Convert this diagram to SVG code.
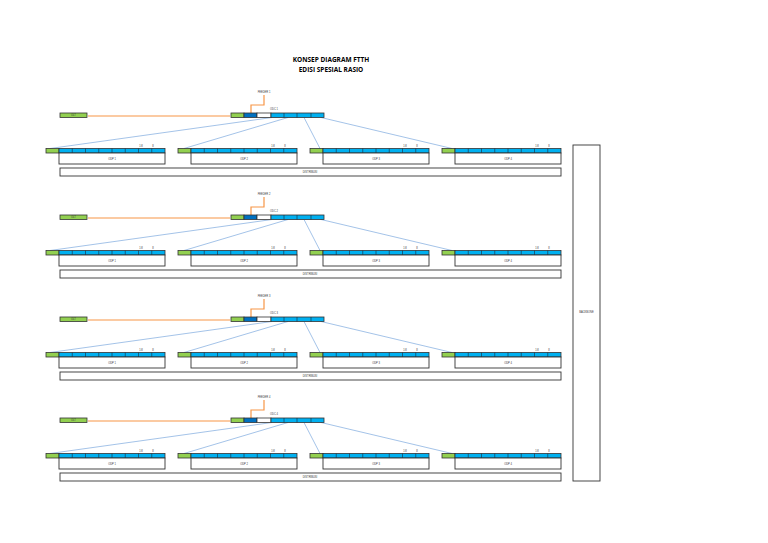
<svg xmlns="http://www.w3.org/2000/svg" width="768" height="543" viewBox="0 0 768 543">
<style>
.t{font-family:"Liberation Sans",Arial,sans-serif;font-size:2.6px;fill:#333;text-anchor:middle}
.title{font-family:"Open Sans","Liberation Sans",sans-serif;font-size:6.5px;font-weight:bold;fill:#000;text-anchor:middle}
.g{fill:#92d050;stroke:#333;stroke-width:0.8}
.b{fill:#00b0f0;stroke:#333;stroke-width:0.8}
.db{fill:#0070c0;stroke:#333;stroke-width:0.8}
.w{fill:#fff;stroke:#333;stroke-width:0.8}
.box{fill:#fff;stroke:#333;stroke-width:0.9}
.div{stroke:#1a2a3a;stroke-width:0.6}
.or{fill:none;stroke:#f79646;stroke-width:1.2}
.bl{fill:none;stroke:#8db4e2;stroke-width:0.8}
</style>
<defs>
<g id="cells8">
<rect class="b" x="0" y="0" width="106" height="4.5"/>
<path class="div" d="M13.25,0V4.5M26.5,0V4.5M39.75,0V4.5M53,0V4.5M66.25,0V4.5M79.5,0V4.5M92.75,0V4.5"/>
</g>
</defs>
<rect width="768" height="543" fill="#fff"/>
<text class="title" x="331" y="62">KONSEP DIAGRAM FTTH</text>
<text class="title" x="331" y="72">EDISI SPESIAL RASIO</text>

<g id="section-1">
<g id="connectors-1">
<path class="or" d="M264,95V105H251V113"/>
<path class="or" d="M88,116H230"/>
<path class="bl" d="M272,117.5L50,148.5M288,117.5L184,148.5M304,117.5L320,148.5M321,117.5L452,148.5"/>
</g>
<g id="feeder-1"><text class="t" x="264" y="93">FEEDER 1</text></g>
<g id="olt-1"><rect class="g" x="60" y="113" width="27" height="4.5"/><text class="t" x="73.5" y="116.2">OLT</text></g>
<g id="odc-1">
<text class="t" x="274" y="110">ODC 1</text>
<rect class="g" x="231" y="113" width="13" height="4.5"/>
<rect class="db" x="244" y="113" width="13" height="4.5"/>
<rect class="w" x="257" y="113" width="14" height="4.5"/>
<rect class="b" x="271" y="113" width="53" height="4.5"/>
<path class="div" d="M284,113V117.5M297,113V117.5M311,113V117.5"/>
</g>
<g id="odp-1-1"><rect class="g" x="46" y="148.5" width="13" height="4.5"/><use href="#cells8" x="59" y="148.5"/><rect class="box" x="59" y="153" width="106" height="11"/><text class="t" x="112" y="159.5">ODP 1</text><text class="t" x="141" y="147">1:8</text><text class="t" x="153" y="147">8</text></g>
<g id="odp-1-2"><rect class="g" x="178" y="148.5" width="13" height="4.5"/><use href="#cells8" x="191" y="148.5"/><rect class="box" x="191" y="153" width="106" height="11"/><text class="t" x="244" y="159.5">ODP 2</text><text class="t" x="273" y="147">1:8</text><text class="t" x="285" y="147">8</text></g>
<g id="odp-1-3"><rect class="g" x="310" y="148.5" width="13" height="4.5"/><use href="#cells8" x="323" y="148.5"/><rect class="box" x="323" y="153" width="106" height="11"/><text class="t" x="376" y="159.5">ODP 3</text><text class="t" x="405" y="147">1:8</text><text class="t" x="417" y="147">8</text></g>
<g id="odp-1-4"><rect class="g" x="442" y="148.5" width="13" height="4.5"/><use href="#cells8" x="455" y="148.5"/><rect class="box" x="455" y="153" width="106" height="11"/><text class="t" x="508" y="159.5">ODP 4</text><text class="t" x="537" y="147">1:8</text><text class="t" x="549" y="147">8</text></g>
<g id="dist-1"><rect class="box" x="60" y="168" width="501" height="8"/><text class="t" x="310" y="173">DISTRIBUSI</text></g>
</g>

<g id="section-2" transform="translate(0,102)">
<g id="connectors-2">
<path class="or" d="M264,95V105H251V113"/>
<path class="or" d="M88,116H230"/>
<path class="bl" d="M272,117.5L50,148.5M288,117.5L184,148.5M304,117.5L320,148.5M321,117.5L452,148.5"/>
</g>
<g id="feeder-2"><text class="t" x="264" y="93">FEEDER 2</text></g>
<g id="olt-2"><rect class="g" x="60" y="113" width="27" height="4.5"/><text class="t" x="73.5" y="116.2">OLT</text></g>
<g id="odc-2">
<text class="t" x="274" y="110">ODC 2</text>
<rect class="g" x="231" y="113" width="13" height="4.5"/>
<rect class="db" x="244" y="113" width="13" height="4.5"/>
<rect class="w" x="257" y="113" width="14" height="4.5"/>
<rect class="b" x="271" y="113" width="53" height="4.5"/>
<path class="div" d="M284,113V117.5M297,113V117.5M311,113V117.5"/>
</g>
<g id="odp-2-1"><rect class="g" x="46" y="148.5" width="13" height="4.5"/><use href="#cells8" x="59" y="148.5"/><rect class="box" x="59" y="153" width="106" height="11"/><text class="t" x="112" y="159.5">ODP 1</text><text class="t" x="141" y="147">1:8</text><text class="t" x="153" y="147">8</text></g>
<g id="odp-2-2"><rect class="g" x="178" y="148.5" width="13" height="4.5"/><use href="#cells8" x="191" y="148.5"/><rect class="box" x="191" y="153" width="106" height="11"/><text class="t" x="244" y="159.5">ODP 2</text><text class="t" x="273" y="147">1:8</text><text class="t" x="285" y="147">8</text></g>
<g id="odp-2-3"><rect class="g" x="310" y="148.5" width="13" height="4.5"/><use href="#cells8" x="323" y="148.5"/><rect class="box" x="323" y="153" width="106" height="11"/><text class="t" x="376" y="159.5">ODP 3</text><text class="t" x="405" y="147">1:8</text><text class="t" x="417" y="147">8</text></g>
<g id="odp-2-4"><rect class="g" x="442" y="148.5" width="13" height="4.5"/><use href="#cells8" x="455" y="148.5"/><rect class="box" x="455" y="153" width="106" height="11"/><text class="t" x="508" y="159.5">ODP 4</text><text class="t" x="537" y="147">1:8</text><text class="t" x="549" y="147">8</text></g>
<g id="dist-2"><rect class="box" x="60" y="168" width="501" height="8"/><text class="t" x="310" y="173">DISTRIBUSI</text></g>
</g>

<g id="section-3" transform="translate(0,204)">
<g id="connectors-3">
<path class="or" d="M264,95V105H251V113"/>
<path class="or" d="M88,116H230"/>
<path class="bl" d="M272,117.5L50,148.5M288,117.5L184,148.5M304,117.5L320,148.5M321,117.5L452,148.5"/>
</g>
<g id="feeder-3"><text class="t" x="264" y="93">FEEDER 3</text></g>
<g id="olt-3"><rect class="g" x="60" y="113" width="27" height="4.5"/><text class="t" x="73.5" y="116.2">OLT</text></g>
<g id="odc-3">
<text class="t" x="274" y="110">ODC 3</text>
<rect class="g" x="231" y="113" width="13" height="4.5"/>
<rect class="db" x="244" y="113" width="13" height="4.5"/>
<rect class="w" x="257" y="113" width="14" height="4.5"/>
<rect class="b" x="271" y="113" width="53" height="4.5"/>
<path class="div" d="M284,113V117.5M297,113V117.5M311,113V117.5"/>
</g>
<g id="odp-3-1"><rect class="g" x="46" y="148.5" width="13" height="4.5"/><use href="#cells8" x="59" y="148.5"/><rect class="box" x="59" y="153" width="106" height="11"/><text class="t" x="112" y="159.5">ODP 1</text><text class="t" x="141" y="147">1:8</text><text class="t" x="153" y="147">8</text></g>
<g id="odp-3-2"><rect class="g" x="178" y="148.5" width="13" height="4.5"/><use href="#cells8" x="191" y="148.5"/><rect class="box" x="191" y="153" width="106" height="11"/><text class="t" x="244" y="159.5">ODP 2</text><text class="t" x="273" y="147">1:8</text><text class="t" x="285" y="147">8</text></g>
<g id="odp-3-3"><rect class="g" x="310" y="148.5" width="13" height="4.5"/><use href="#cells8" x="323" y="148.5"/><rect class="box" x="323" y="153" width="106" height="11"/><text class="t" x="376" y="159.5">ODP 3</text><text class="t" x="405" y="147">1:8</text><text class="t" x="417" y="147">8</text></g>
<g id="odp-3-4"><rect class="g" x="442" y="148.5" width="13" height="4.5"/><use href="#cells8" x="455" y="148.5"/><rect class="box" x="455" y="153" width="106" height="11"/><text class="t" x="508" y="159.5">ODP 4</text><text class="t" x="537" y="147">1:8</text><text class="t" x="549" y="147">8</text></g>
<g id="dist-3"><rect class="box" x="60" y="168" width="501" height="8"/><text class="t" x="310" y="173">DISTRIBUSI</text></g>
</g>

<g id="section-4" transform="translate(0,305)">
<g id="connectors-4">
<path class="or" d="M264,95V105H251V113"/>
<path class="or" d="M88,116H230"/>
<path class="bl" d="M272,117.5L50,148.5M288,117.5L184,148.5M304,117.5L320,148.5M321,117.5L452,148.5"/>
</g>
<g id="feeder-4"><text class="t" x="264" y="93">FEEDER 4</text></g>
<g id="olt-4"><rect class="g" x="60" y="113" width="27" height="4.5"/><text class="t" x="73.5" y="116.2">OLT</text></g>
<g id="odc-4">
<text class="t" x="274" y="110">ODC 4</text>
<rect class="g" x="231" y="113" width="13" height="4.5"/>
<rect class="db" x="244" y="113" width="13" height="4.5"/>
<rect class="w" x="257" y="113" width="14" height="4.5"/>
<rect class="b" x="271" y="113" width="53" height="4.5"/>
<path class="div" d="M284,113V117.5M297,113V117.5M311,113V117.5"/>
</g>
<g id="odp-4-1"><rect class="g" x="46" y="148.5" width="13" height="4.5"/><use href="#cells8" x="59" y="148.5"/><rect class="box" x="59" y="153" width="106" height="11"/><text class="t" x="112" y="159.5">ODP 1</text><text class="t" x="141" y="147">1:8</text><text class="t" x="153" y="147">8</text></g>
<g id="odp-4-2"><rect class="g" x="178" y="148.5" width="13" height="4.5"/><use href="#cells8" x="191" y="148.5"/><rect class="box" x="191" y="153" width="106" height="11"/><text class="t" x="244" y="159.5">ODP 2</text><text class="t" x="273" y="147">1:8</text><text class="t" x="285" y="147">8</text></g>
<g id="odp-4-3"><rect class="g" x="310" y="148.5" width="13" height="4.5"/><use href="#cells8" x="323" y="148.5"/><rect class="box" x="323" y="153" width="106" height="11"/><text class="t" x="376" y="159.5">ODP 3</text><text class="t" x="405" y="147">1:8</text><text class="t" x="417" y="147">8</text></g>
<g id="odp-4-4"><rect class="g" x="442" y="148.5" width="13" height="4.5"/><use href="#cells8" x="455" y="148.5"/><rect class="box" x="455" y="153" width="106" height="11"/><text class="t" x="508" y="159.5">ODP 4</text><text class="t" x="537" y="147">1:8</text><text class="t" x="549" y="147">8</text></g>
<g id="dist-4"><rect class="box" x="60" y="168" width="501" height="8"/><text class="t" x="310" y="173">DISTRIBUSI</text></g>
</g>

<g id="backbone"><rect class="box" x="573" y="145" width="27" height="336"/><text class="t" x="586.5" y="313">BACKBONE</text></g>
</svg>
